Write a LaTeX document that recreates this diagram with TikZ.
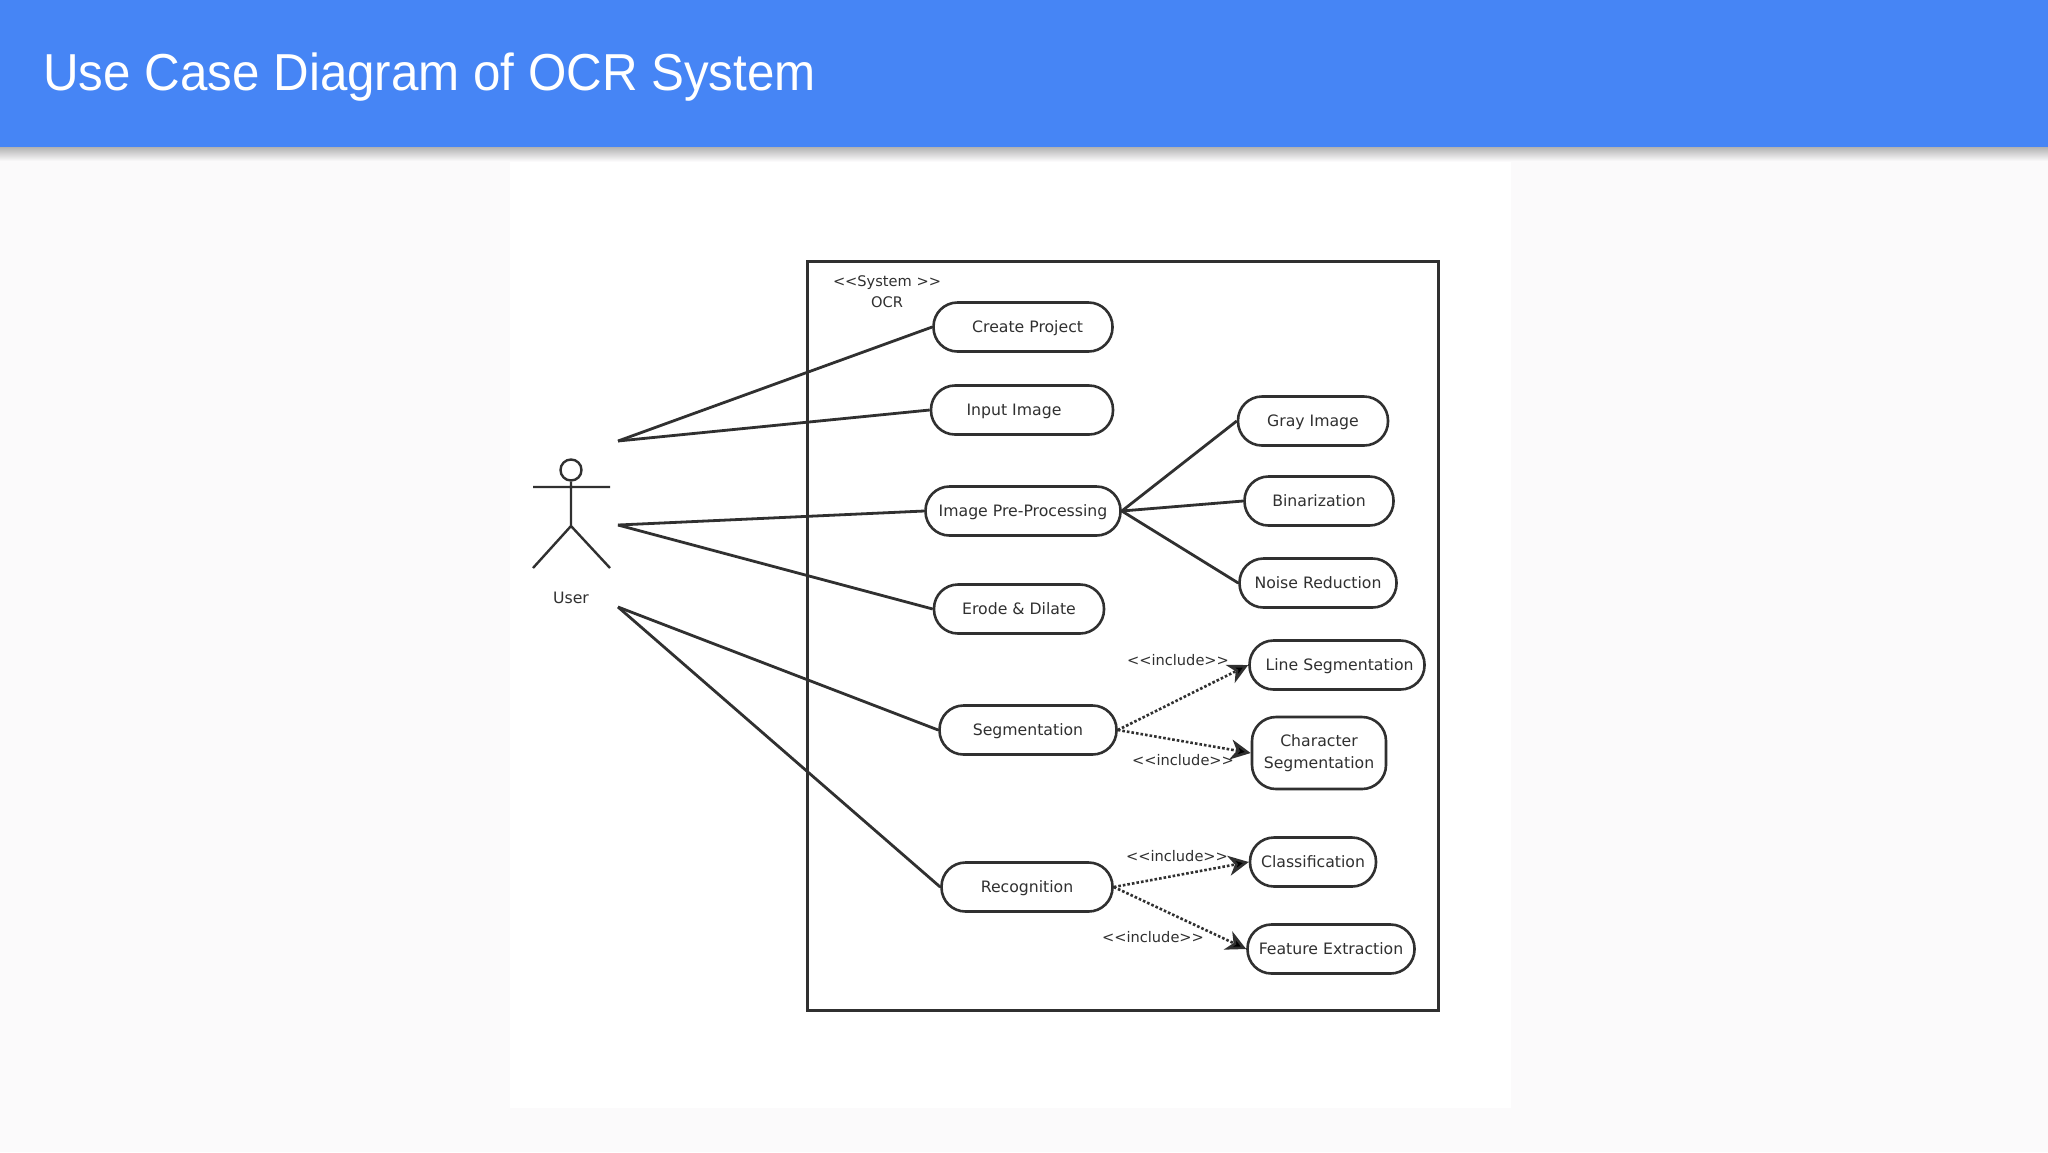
\documentclass[tikz,border=0pt]{standalone}
\usepackage{fontspec}
\setmainfont{DejaVu Sans}
\newfontfamily\titlefont[FakeStretch=0.948]{Liberation Sans}
\usetikzlibrary{arrows.meta}
\definecolor{headblue}{HTML}{4685F5}
\definecolor{pagebg}{HTML}{FBFAFB}
\definecolor{inkgray}{HTML}{303030}
\tikzset{
  usecase/.style={draw=inkgray, line width=1.3pt, rounded corners=12pt, minimum height=24.5pt,
    inner sep=0pt, align=center, text height=7pt, text depth=1.7pt,
    font=\fontsize{7.85}{11}\selectfont, text=inkgray, fill=white},
  caption/.style={inner sep=0pt, align=center, font=\fontsize{7.85}{10.5}\selectfont, text=inkgray},
  stereo/.style={caption, font=\fontsize{7.3}{10.5}\selectfont},
  assoc/.style={draw=inkgray, line width=1.4pt},
  incl/.style={draw=inkgray, line width=1.3pt, densely dotted, -{Stealth[length=10pt,width=10pt,inset=3pt,fill=black]}}
}
\begin{document}
\begin{tikzpicture}[x=0.5pt, y=-0.5pt]
  \useasboundingbox (0,0) rectangle (2048,1152);
  % page
  \fill[pagebg] (0,0) rectangle (2048,1152);
  \fill[white] (510,161) rectangle (1511,1108);
  \shade[top color=black!30, bottom color=pagebg] (0,147) rectangle (2048,161);
  \fill[headblue] (0,0) rectangle (2048,147);
  \node[anchor=base west, inner sep=0pt, text=white, font=\titlefont\fontsize{26}{30}\selectfont] (title) at (43,90) {Use Case Diagram of OCR System};

  % system box
  \draw[inkgray, line width=1.5pt] (807,261) rectangle (1438,1010);
  \node[stereo] (sysname) at (887,292) {<{}<System >{}>\\OCR};

  % actor
  \node[draw=inkgray, line width=1.2pt, circle, minimum size=10.5pt, inner sep=0pt] (head) at (571,470) {};
  \coordinate (neck) at (571,487);
  \coordinate (hip) at (571,526);
  \coordinate (armL) at (533,487);
  \coordinate (armR) at (610,487);
  \coordinate (legL) at (533,568);
  \coordinate (legR) at (610,568);
  \draw[inkgray, line width=1.2pt] (head) -- (hip) (armL) -- (armR) (legL) -- (hip) -- (legR);
  \node[caption] (user) at (571,598) {User};
  \coordinate (linkA) at (618,441);
  \coordinate (linkB) at (618,525);
  \coordinate (linkC) at (618,607);

  % use cases
  \node[usecase, minimum width=89.5pt] (create) at (1023,327) {\hspace*{4.6pt}Create Project};
  \node[usecase, minimum width=91pt] (input) at (1022,410) {\hspace*{-8pt}Input Image};
  \node[usecase, minimum width=97.5pt] (prepro) at (1023,511) {Image Pre-Processing};
  \node[usecase, minimum width=85pt] (erode) at (1019,609) {Erode \& Dilate};
  \node[usecase, minimum width=75pt] (gray) at (1313,421) {Gray Image};
  \node[usecase, minimum width=74.5pt] (binar) at (1319,501) {Binarization};
  \node[usecase, minimum width=78.5pt] (noise) at (1318,583) {Noise Reduction};
  \node[usecase, minimum width=87.5pt] (lineseg) at (1337,665) {\hspace*{2.6pt}Line Segmentation};
  \node[usecase, minimum width=67pt, minimum height=36pt, text height=, text depth=] (charseg) at (1319,753) {Character\\Segmentation};
  \node[usecase, minimum width=88.5pt] (segm) at (1028,730) {Segmentation};
  \node[usecase, minimum width=85.5pt] (recog) at (1027,887) {Recognition};
  \node[usecase, minimum width=63pt] (classif) at (1313,862) {Classification};
  \node[usecase, minimum width=83.5pt] (feature) at (1331,949) {Feature Extraction};

  % links
  \foreach \a/\b in {linkA/create,linkA/input,linkB/prepro,linkB/erode,linkC/segm,linkC/recog}
    \draw[assoc] (\a) -- (\b.west);
  \foreach \b in {gray,binar,noise}
    \draw[assoc] (prepro.east) -- (\b.west);
  \foreach \a/\b in {segm/lineseg,segm/charseg,recog/classif,recog/feature}
    \draw[incl] (\a.east) -- (\b.west);

  \node[stereo] (inclA) at (1178,660) {<{}<include>{}>};
  \node[stereo] (inclB) at (1183,760) {<{}<include>{}>};
  \node[stereo] (inclC) at (1177,856) {<{}<include>{}>};
  \node[stereo] (inclD) at (1153,937) {<{}<include>{}>};
\end{tikzpicture}
\end{document}
